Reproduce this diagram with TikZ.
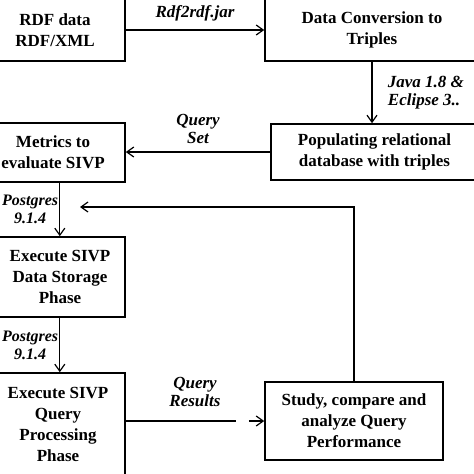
\documentclass[tikz,border=0pt]{standalone}
\usepackage{fontspec}
\setmainfont{Liberation Serif}
\usepackage{tikz}
\usetikzlibrary{positioning,arrows.meta,calc}

\begin{document}
\begin{tikzpicture}[x=1pt,y=-1pt,
  stagebox/.style={draw,line width=1.6pt,rectangle,inner sep=0pt,align=center,font=\bfseries\fontsize{17}{21}\selectfont},
  flow/.style={line width=1.2pt,-{Straight Barb[length=7pt,width=10pt,line width=1.2pt]}},
  tool/.style={align=center,font=\bfseries\itshape\fontsize{17}{18}\selectfont}]
\useasboundingbox (0,0) rectangle (474,474);
\clip (0,0) rectangle (474,474);

\node[stagebox,minimum width=140pt,minimum height=62pt] (rdf) at (55,30) {RDF data\\RDF/XML};
\node[stagebox,minimum width=214pt,minimum height=62pt] (conv) at (372,30) {Data Conversion to\\Triples};
\node[stagebox,minimum width=207pt,minimum height=56pt] (popul) at (374.5,152) {Populating relational\\database with triples};
\node[stagebox,minimum width=144pt,minimum height=59pt] (metric) at (53,152.5) {Metrics to\\evaluate SIVP};
\node[stagebox,minimum width=130pt,minimum height=80pt] (store) at (60,277) {Execute SIVP\\Data Storage\\Phase};
\node[stagebox,minimum width=134pt,minimum height=103pt] (query) at (58,424.5) {Execute SIVP\\Query\\Processing\\Phase};
\node[stagebox,minimum width=178pt,minimum height=78pt] (study) at (354,421) {Study, compare and\\analyze Query\\Performance};
\coordinate (back) at (80,207);

\draw[flow] (rdf.east) -- (conv.west) node[tool,midway,above=5pt] {Rdf2rdf.jar};
\draw[flow] (conv.south) -- (conv.south |- popul.north) node[tool,midway,right=12pt,align=left] {Java 1.8 \&\\Eclipse 3..};
\draw[flow] (popul.west) -- (popul.west -| metric.east) node[tool,midway,above=4pt] {Query\\Set};

\draw[flow] ([xshift=-66pt]metric.south east) -- ([xshift=-66pt]metric.south east |- store.north) %%%POSTGRES 1
node[tool,midway,inner sep=0pt,left=1pt,font=\bfseries\itshape\fontsize{16}{18}\selectfont] {Postgres\\9.1.4};
\draw[flow] ([xshift=-66pt]store.south east) -- ([xshift=-66pt]store.south east |- query.north) %%%POSTGRES 2
node[tool,midway,inner sep=0pt,left=1pt,font=\bfseries\itshape\fontsize{16}{18}\selectfont] {Postgres\\9.1.4};

\draw[flow,dash pattern=on 110pt off 13pt on 40pt] (query.east |- study.west) -- (study.west) %%%RESULTS
node[tool,midway,above=10pt] {Query\\Results};

\draw[flow] (study.north) |- (back); %%%FEEDBACK
\end{tikzpicture}
\end{document}
